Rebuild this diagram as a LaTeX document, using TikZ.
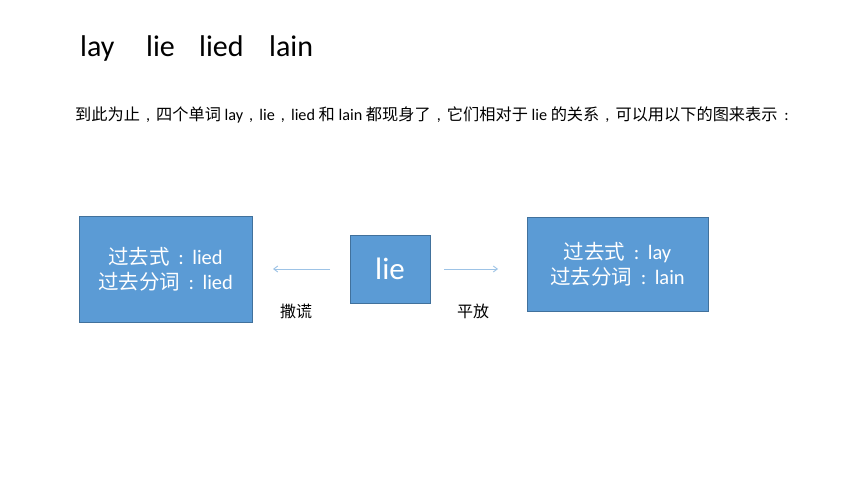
\documentclass[tikz,border=0pt]{standalone}
\usepackage{fontspec}
\setmainfont{Carlito}
\newfontfamily\cjk{Noto Sans CJK SC}
\newcommand{\zcomma}{\makebox[1em][c]{,}}
\newcommand{\zcolon}{\makebox[1.1em][c]{:}}
\usetikzlibrary{arrows.meta}
\definecolor{boxblue}{HTML}{5B9BD5}
\definecolor{boxedge}{HTML}{41719C}
\definecolor{arrowblue}{HTML}{9DC3E6}
\begin{document}
\begin{tikzpicture}[x=1pt,y=-1pt,
  bluebox/.style={draw=boxedge,line width=0.8pt,fill=boxblue,text=white,inner sep=0pt,align=center},
  boxtext/.style={font=\fontsize{20.5}{25.5}\selectfont},
  titleword/.style={anchor=base west,inner sep=0pt,font=\fontsize{30}{34}\selectfont},
  conn/.style={draw=arrowblue,line width=0.9pt,-{Straight Barb[length=4pt,width=6pt]}},
  lbl/.style={font=\cjk\fontsize{16}{19}\selectfont,inner sep=0pt}]
\useasboundingbox[fill=white] (0,0) rectangle (860,484);
% title
\node[titleword] (t1) at (80,57) {lay};
\node[titleword] (t2) at (146,57) {lie};
\node[titleword] (t3) at (199,57) {lied};
\node[titleword] (t4) at (269,57) {lain};
% sentence
\node[anchor=base west,inner sep=0pt,font=\fontsize{16.2}{19}\selectfont] (s) at (75,121)
 {{\cjk 到此为止}\zcomma{\cjk 四个单词} lay\zcomma lie\zcomma lied {\cjk 和} lain {\cjk 都现身了}\zcomma{\cjk 它们相对于} lie {\cjk 的关系}\zcomma{\cjk 可以用以下的图来表示}\zcolon};
% boxes
\node[bluebox,boxtext,minimum width=173pt,minimum height=106pt] (left) at (165.5,269)
 {{\cjk 过去式}\zcolon lied\\{\cjk 过去分词}\zcolon lied};
\node[bluebox,minimum width=80pt,minimum height=68pt,font=\fontsize{31}{34}\selectfont] (mid) at (390,269) {lie};
\node[bluebox,boxtext,minimum width=181pt,minimum height=94pt] (right) at (617.5,264)
 {{\cjk 过去式}\zcolon lay\\{\cjk 过去分词}\zcolon lain};
% connectors
\coordinate (la) at (330,269);
\coordinate (lb) at (273,269);
\coordinate (ra) at (444,269);
\coordinate (rb) at (498,269);
\draw[conn] (la) -- (lb);
\draw[conn] (ra) -- (rb);
\node[lbl] (l1) at (296,311) {撒谎};
\node[lbl] (l2) at (473,311) {平放};
\end{tikzpicture}
\end{document}
